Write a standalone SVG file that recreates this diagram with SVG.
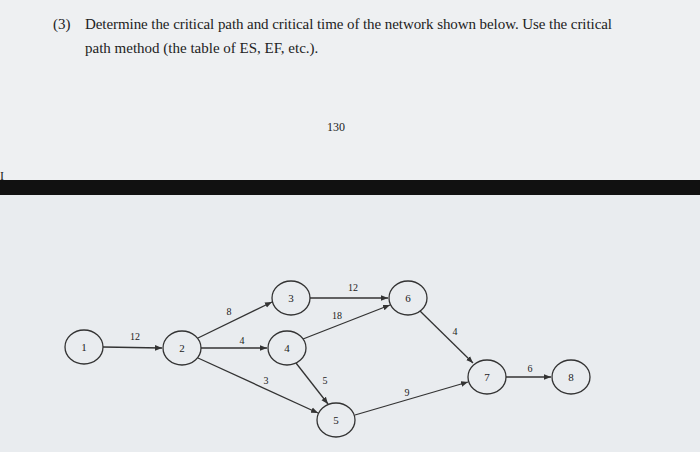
<svg xmlns="http://www.w3.org/2000/svg" width="700" height="452" viewBox="0 0 700 452">
<style>
text{font-family:"Liberation Serif",serif;fill:#222}
.n ellipse{fill:none;stroke:#333;stroke-width:1.3}
.n text{font-size:11px;text-anchor:middle}
.e line{stroke:#333;stroke-width:1.3;marker-end:url(#a)}
.l{font-size:10px;text-anchor:middle}
</style>
<defs><marker id="a" viewBox="0 0 10 10" refX="10" refY="5" markerWidth="7" markerHeight="7" orient="auto" markerUnits="userSpaceOnUse"><path d="M0,1 L10,5 L0,9 Z" fill="#333"/></marker></defs>
<rect width="700" height="452" fill="#e9ecef"/>
<rect y="0" width="700" height="180" fill="#eef0f2"/>
<text x="53" y="29" font-size="15">(3)</text>
<text x="85" y="29" font-size="15" textLength="527">Determine the critical path and critical time of the network shown below.  Use the critical</text>
<text x="85" y="53" font-size="15">path method (the table of ES, EF, etc.).</text>
<text x="336" y="131" font-size="12" text-anchor="middle">130</text>
<rect y="180" width="700" height="15" fill="#111"/>
<text x="0" y="180" font-size="12">I</text>
<g class="e" id="edges">
<line x1="103" y1="347" x2="162" y2="348"/>
<line x1="198" y1="338" x2="272" y2="302"/>
<line x1="201" y1="348" x2="267" y2="348"/>
<line x1="198" y1="358" x2="318" y2="413"/>
<line x1="310" y1="298" x2="388" y2="298"/>
<line x1="303" y1="339" x2="390" y2="305"/>
<line x1="296" y1="363" x2="328" y2="404"/>
<line x1="420" y1="311" x2="473" y2="363"/>
<line x1="355" y1="415" x2="468" y2="382"/>
<line x1="506" y1="377" x2="551" y2="377"/>
</g>
<text class="l" x="135" y="340">12</text>
<text class="l" x="229" y="315">8</text>
<text class="l" x="242" y="344">4</text>
<text class="l" x="266" y="384">3</text>
<text class="l" x="353" y="291">12</text>
<text class="l" x="337" y="319">18</text>
<text class="l" x="325" y="384">5</text>
<text class="l" x="455" y="335">4</text>
<text class="l" x="407" y="396">9</text>
<text class="l" x="530" y="372">6</text>
<g class="n" id="n1"><ellipse cx="84" cy="347" rx="19" ry="17"/><text x="84" y="351">1</text></g>
<g class="n" id="n2"><ellipse cx="182" cy="348" rx="19" ry="17"/><text x="182" y="352">2</text></g>
<g class="n" id="n3"><ellipse cx="291" cy="298" rx="19" ry="17"/><text x="291" y="302">3</text></g>
<g class="n" id="n4"><ellipse cx="287" cy="348" rx="19" ry="17"/><text x="287" y="352">4</text></g>
<g class="n" id="n5"><ellipse cx="336" cy="420" rx="19" ry="17"/><text x="336" y="424">5</text></g>
<g class="n" id="n6"><ellipse cx="408" cy="298" rx="19" ry="17"/><text x="408" y="302">6</text></g>
<g class="n" id="n7"><ellipse cx="487" cy="377" rx="19" ry="17"/><text x="487" y="381">7</text></g>
<g class="n" id="n8"><ellipse cx="571" cy="377" rx="19" ry="17"/><text x="571" y="381">8</text></g>
</svg>
